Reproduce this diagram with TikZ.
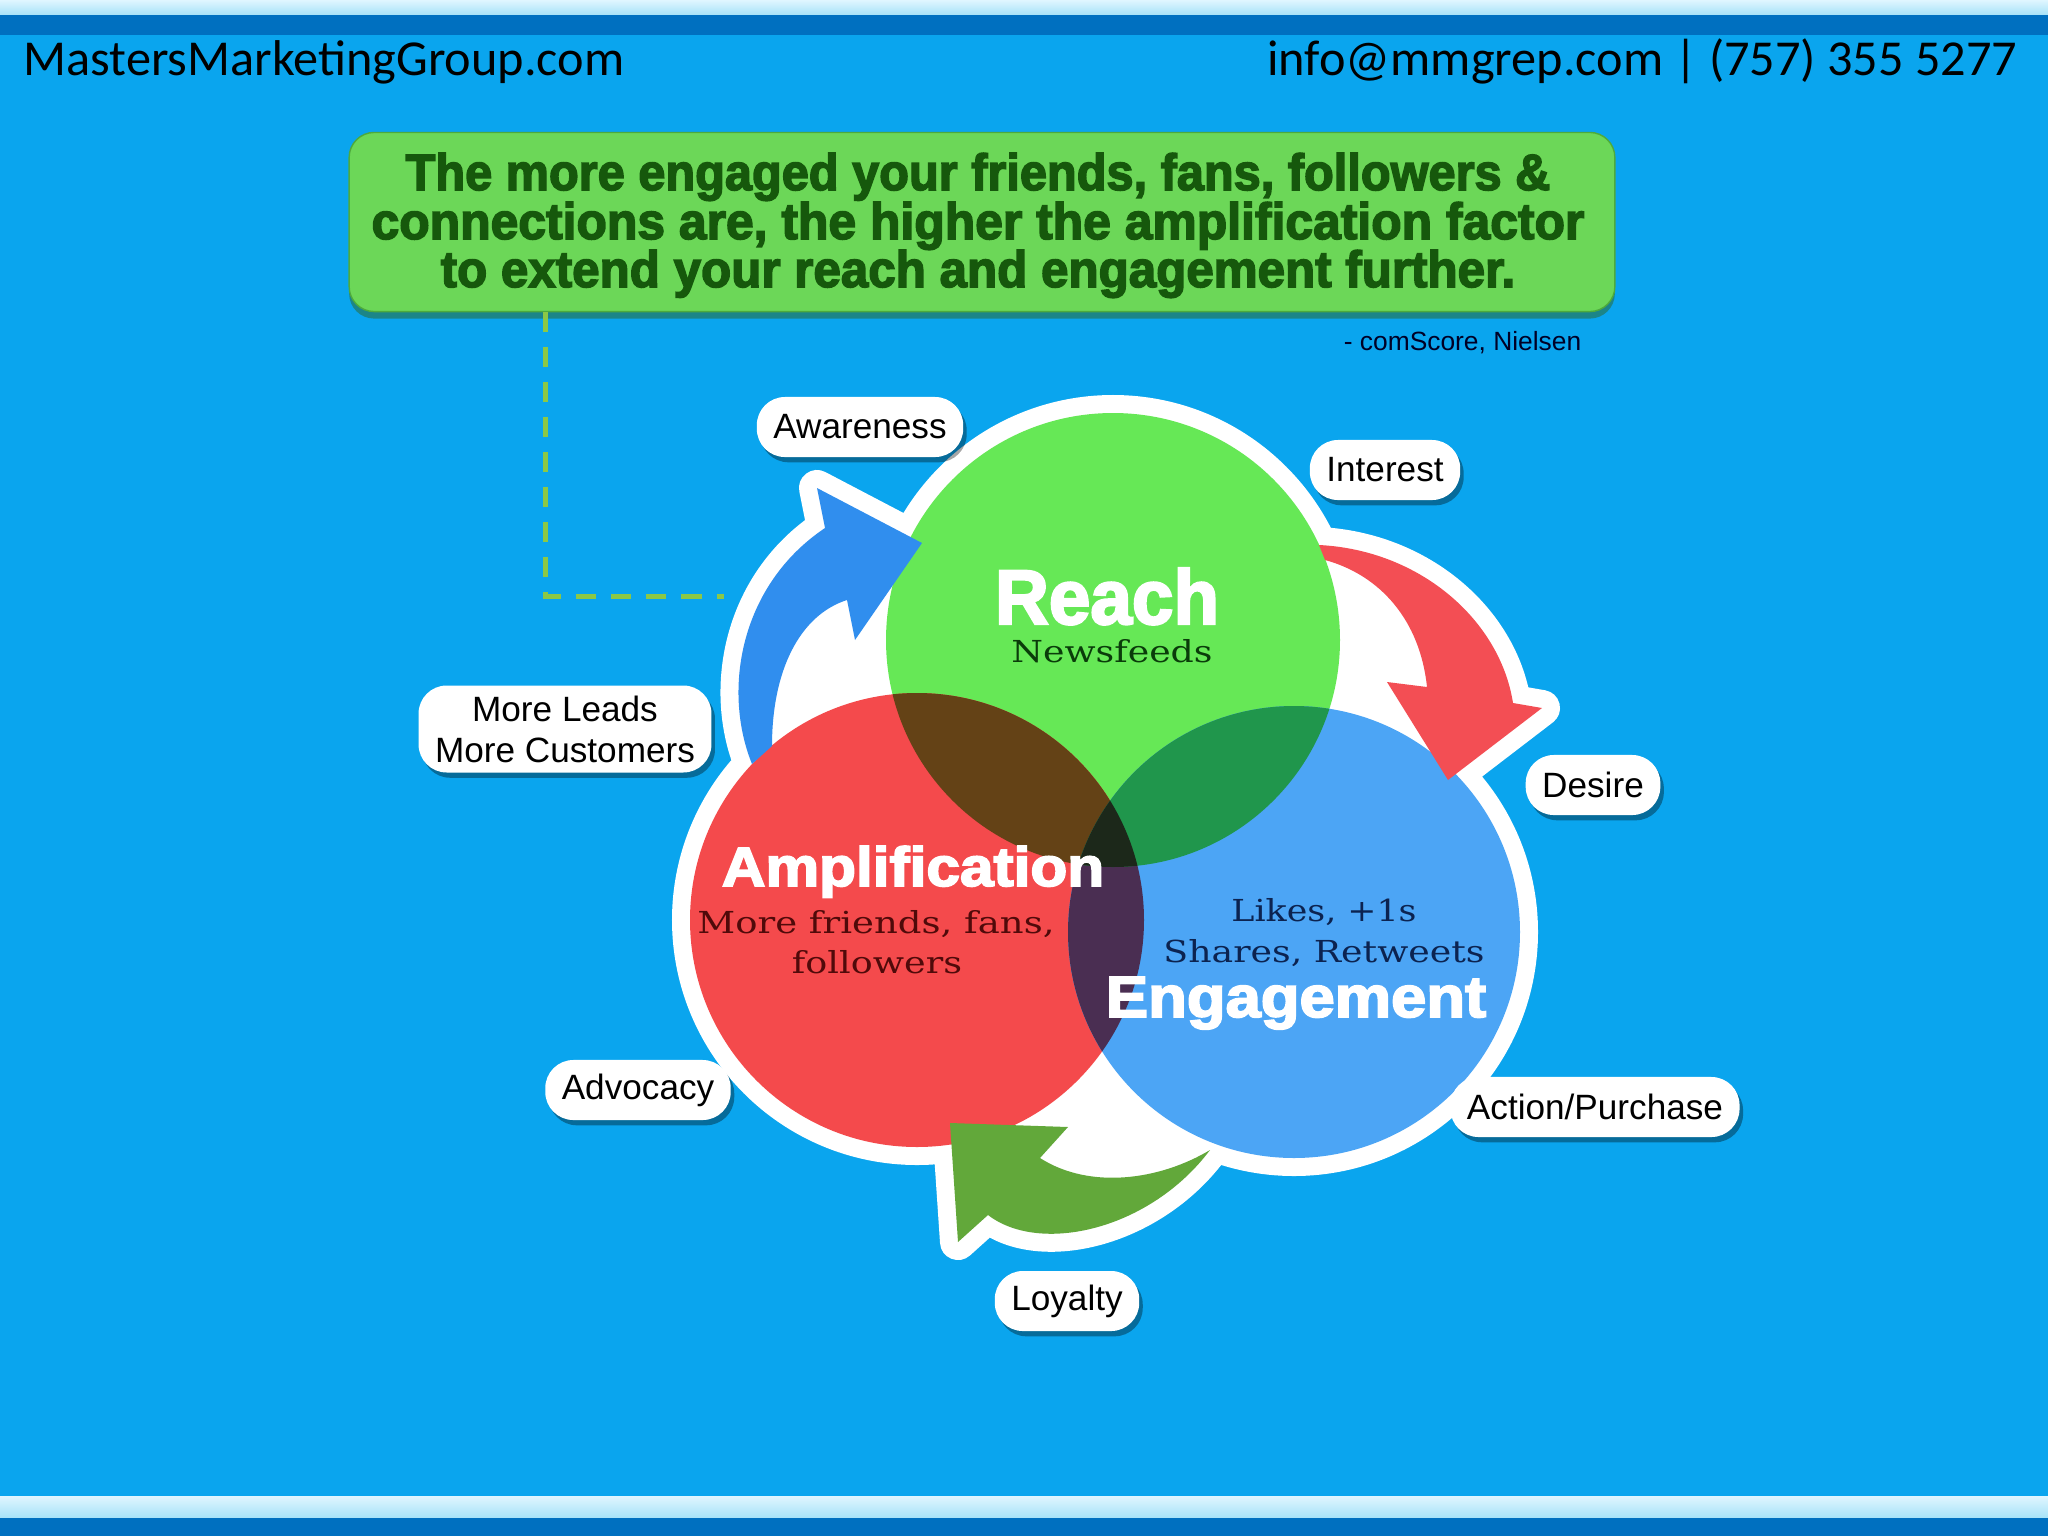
\documentclass[tikz,border=0pt]{standalone}
\usepackage{fontspec}
\usepackage{graphicx}
\setmainfont{Liberation Sans}
\newfontfamily\headfont{Carlito}
\newfontfamily\heavyfont{Liberation Sans}[FakeBold=3]
\newfontfamily\seriffont{DejaVu Serif}
\usetikzlibrary{shadows}

\definecolor{bgblue}{RGB}{10,165,238}
\definecolor{bardark}{RGB}{0,112,192}
\definecolor{barlighttop}{RGB}{224,246,255}
\definecolor{barlightbot}{RGB}{166,226,248}
\definecolor{quotefill}{RGB}{108,215,88}
\definecolor{quotedraw}{RGB}{78,170,60}
\definecolor{quotetext}{RGB}{22,88,12}
\definecolor{dashgreen}{RGB}{140,200,70}
\definecolor{reachgreen}{RGB}{102,232,86}
\definecolor{amplred}{RGB}{244,74,76}
\definecolor{engblue}{RGB}{76,165,245}
\definecolor{rgmix}{RGB}{100,66,22}
\definecolor{gbmix}{RGB}{32,150,76}
\definecolor{rbmix}{RGB}{74,46,82}
\definecolor{rgbmix}{RGB}{28,40,26}
\definecolor{arrblue}{RGB}{48,142,238}
\definecolor{arrred}{RGB}{243,78,84}
\definecolor{arrgreen}{RGB}{98,168,58}
\definecolor{newsgreen}{RGB}{10,60,10}
\definecolor{ampltext}{RGB}{80,10,10}
\definecolor{engtext}{RGB}{12,35,80}

\begin{document}
\begin{tikzpicture}[
  x=0.01cm, y=-0.01cm,
  tag/.style={fill=white, rounded corners=8pt, font=\fontsize{10}{11.7}\selectfont, inner xsep=0.165cm, inner ysep=0.1cm, minimum height=0.6cm, align=center, drop shadow={shadow xshift=1pt, shadow yshift=-1.5pt, opacity=0.35, fill=black}},
  quoteline/.style={anchor=base, inner sep=0, text=quotetext, font=\heavyfont\bfseries},
  venntitle/.style={anchor=base, inner sep=0, text=white, font=\heavyfont\bfseries},
  vennsub/.style={anchor=base, inner sep=0, font=\seriffont},
  halo/.style={fill=white, draw=white, line width=0.36cm, line join=round},
  header/.style={inner sep=0, font=\headfont\fontsize{14.3}{17}\selectfont}
]
\useasboundingbox (0,0) rectangle (2048,1536);

% background and bars
\fill[bgblue] (0,0) rectangle (2048,1536);
\shade[top color=barlighttop, bottom color=barlightbot] (0,0) rectangle (2048,15);
\fill[bardark] (0,15) rectangle (2048,35);
\shade[top color=barlighttop, bottom color=barlightbot] (0,1496) rectangle (2048,1518);
\fill[bardark] (0,1518) rectangle (2048,1536);

\node[header, anchor=base west] (site) at (23,75) {MastersMarketingGroup.com};
\node[header, anchor=base east] (contact) at (2018,75) {info@mmgrep.com | (757) 355 5277};

% quote box
\node[fill=quotefill, draw=quotedraw, rounded corners=0.25cm, minimum width=12.65cm, minimum height=1.79cm,
  drop shadow={shadow xshift=0pt, shadow yshift=-2pt, opacity=0.5, fill=quotedraw!60!black}] (quote) at (982,222) {};
\node[quoteline] (qline1) at (978,190) {\resizebox{11.44cm}{0.37cm}{The more engaged your friends, fans, followers \&}};
\node[quoteline] (qline2) at (978,239) {\resizebox{12.12cm}{0.37cm}{connections are, the higher the amplification factor}};
\node[quoteline] (qline3) at (978,287) {\resizebox{10.74cm}{0.37cm}{to extend your reach and engagement further.}};
\node[anchor=base east, inner sep=0, font=\fontsize{7.5}{9}\selectfont, text=black!85!blue] (source) at (1582,350) {- comScore, Nielsen};

% venn centres
\coordinate (reachc) at (1113,640);
\coordinate (amplc) at (917,920);
\coordinate (engc) at (1294,932);

% white halo behind circles and arrows
\filldraw[halo] (reachc) circle (227) (amplc) circle (227) (engc) circle (226)
  (752,764) .. controls (722,690) and (740,585) .. (825,528) -- (817,488) -- (922,543) -- (reachc) -- (amplc) -- cycle
  (1319,545) .. controls (1420,550) and (1500,620) .. (1513,703) -- (1542,708) -- (1448,780) -- (engc) -- (reachc) -- cycle
  (1210,1150) .. controls (1150,1230) and (1040,1255) .. (988,1215) -- (958,1242) -- (950,1123) -- (amplc) -- (engc) -- cycle;

% circles
\fill[reachgreen] (reachc) circle (227);
\fill[amplred] (amplc) circle (227);
\fill[engblue] (engc) circle (226);
\begin{scope}
  \clip (amplc) circle (227);
  \fill[rgmix] (reachc) circle (227);
  \fill[rbmix] (engc) circle (226);
\end{scope}
\begin{scope}
  \clip (reachc) circle (227);
  \fill[gbmix] (engc) circle (226);
  \clip (amplc) circle (227);
  \fill[rgbmix] (engc) circle (226);
\end{scope}

% arrows
\fill[arrblue] (752,764) .. controls (722,690) and (740,585) .. (825,528) -- (817,488) -- (922,543) -- (855,640)
  -- (847,600) .. controls (800,615) and (772,670) .. (772,746) -- cycle;
\fill[arrred] (1319,545) .. controls (1420,550) and (1500,620) .. (1513,703) -- (1542,708) -- (1448,780) -- (1387,682)
  -- (1427,687) .. controls (1420,620) and (1380,575) .. (1325,560) -- cycle;
\fill[arrgreen] (1210,1150) .. controls (1150,1230) and (1040,1255) .. (988,1215) -- (958,1242) -- (950,1123) -- (1068,1127)
  -- (1040,1158) .. controls (1090,1190) and (1160,1180) .. (1210,1150) -- cycle;

% texts in the circles
\node[venntitle] (reach) at (1107,624) {\resizebox{2.24cm}{0.56cm}{Reach}};
\node[vennsub, text=newsgreen] (news) at (1112,662) {\resizebox{2.01cm}{0.23cm}{Newsfeeds}};
\node[venntitle] (ampl) at (913,886) {\resizebox{3.82cm}{0.40cm}{Amplification}};
\node[vennsub, text=ampltext] (fans) at (876,933) {\resizebox{3.57cm}{0.23cm}{More friends, fans,}};
\node[vennsub, text=ampltext] (follow) at (877,973) {\resizebox{1.70cm}{0.23cm}{followers}};
\node[vennsub, text=engtext] (likes) at (1324,921) {\resizebox{1.85cm}{0.23cm}{Likes, +1s}};
\node[vennsub, text=engtext] (shares) at (1324,962) {\resizebox{3.21cm}{0.23cm}{Shares, Retweets}};
\node[venntitle] (eng) at (1296,1017) {\resizebox{3.80cm}{0.40cm}{Engagement}};

% stage labels
\node[tag] (aware) at (860,427) {Awareness};
\node[tag] (interest) at (1385,470) {Interest};
\node[tag] (desire) at (1593,785) {Desire};
\node[tag] (action) at (1595,1107) {Action/Purchase};
\node[tag] (loyal) at (1067,1301) {Loyalty};
\node[tag] (advoc) at (638,1090) {Advocacy};
\node[tag] (leads) at (565,729) {More Leads\\More Customers};

% dashed link from the quote
\coordinate (dcorner) at (545,596);
\coordinate (dend) at (724,596);
\draw[dashgreen, line width=0.05cm, dash pattern=on 0.2cm off 0.15cm] (quote.south -| dcorner) -- (dcorner) -- (dend);
\end{tikzpicture}
\end{document}
